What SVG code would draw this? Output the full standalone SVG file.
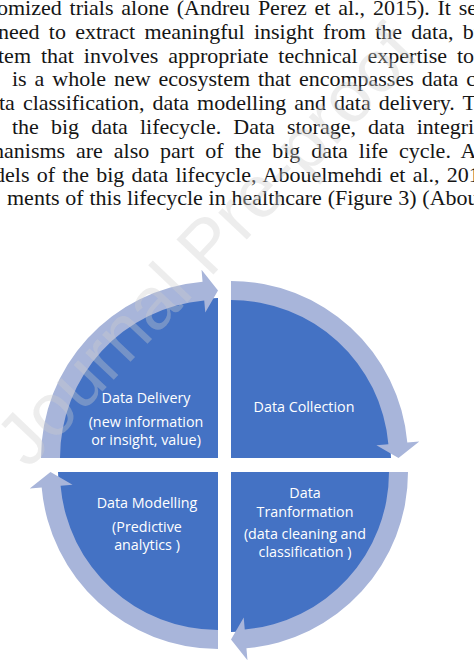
<svg xmlns="http://www.w3.org/2000/svg" width="474" height="661" viewBox="0 0 474 661">
<style>
.para{font-family:"Liberation Serif","Times New Roman",serif;font-size:22px;fill:#151515}
.q{fill:#4472C4}
.lbl{font-family:"Open Sans","Noto Sans",sans-serif;font-size:14.3px;fill:#FFFFFF;text-anchor:middle}
.arrow{fill:#A8B5DA}
.wm{font-family:"Liberation Sans",Arial,sans-serif;font-size:74px;fill:#CCCCCC;fill-opacity:0.36}
</style>
<rect width="474" height="661" fill="#FFFFFF"/>
<g id="paragraph">
<text class="para" x="-3" y="15" word-spacing="2.3">omized trials alone (Andreu Perez et al., 2015). It se</text>
<text class="para" x="-2" y="38.8" word-spacing="3.8">need to extract meaningful insight from the data, bu</text>
<text class="para" x="-2" y="62.6" word-spacing="4.4">tem that involves appropriate technical expertise to</text>
<text class="para" x="12" y="86.4" word-spacing="2.4">is a whole new ecosystem that encompasses data c</text>
<text class="para" x="-1" y="110.2" word-spacing="2.5">ta classification, data modelling and data delivery. T</text>
<text class="para" x="12" y="134" word-spacing="6.6">the big data lifecycle. Data storage, data integri</text>
<text class="para" x="-7" y="157.8" word-spacing="5.4">hanisms are also part of the big data life cycle. A</text>
<text class="para" x="-6" y="181.6" word-spacing="1.7">dels of the big data lifecycle, Abouelmehdi et al., 201</text>
<text class="para" x="7" y="205.4" word-spacing="0.3">ments of this lifecycle in healthcare (Figure 3) (Abou</text>
</g>
<g id="node-data-delivery">
<path class="q" d="M218,458 L58,458 A160,160 0 0 1 218,298 Z"/>
<text class="lbl" x="146" y="403">Data Delivery</text>
<text class="lbl" x="146" y="427">(new information</text>
<text class="lbl" x="146" y="445">or insight, value)</text>
</g>
<g id="node-data-collection">
<path class="q" d="M231,458 L231,298 A160,160 0 0 1 391,458 Z"/>
<text class="lbl" x="304" y="412">Data Collection</text>
</g>
<g id="node-data-transformation">
<path class="q" d="M231,472 L391,472 A160,160 0 0 1 231,632 Z"/>
<text class="lbl" x="305" y="498">Data</text>
<text class="lbl" x="305" y="517">Tranformation</text>
<text class="lbl" x="305" y="539">(data cleaning and</text>
<text class="lbl" x="305" y="557">classification )</text>
</g>
<g id="node-data-modelling">
<path class="q" d="M218,472 L218,632 A160,160 0 0 1 58,472 Z"/>
<text class="lbl" x="147" y="508">Data Modelling</text>
<text class="lbl" x="147" y="532">(Predictive</text>
<text class="lbl" x="147" y="550">analytics )</text>
</g>
<g id="connectors">
<path class="arrow" d="M41,458 A177,177 0 0 1 202.57,281.67 L201.53,269.72 L218,290.5 L205.28,312.56 L204.23,300.6 A158,158 0 0 0 60,458 Z"/>
<path class="arrow" d="M231,281 A177,177 0 0 1 407.33,442.57 L419.28,441.53 L398.5,458 L376.44,445.28 L388.4,444.23 A158,158 0 0 0 231,300 Z"/>
<path class="arrow" d="M408,472 A177,177 0 0 1 246.43,648.33 L247.47,660.28 L231,639.5 L243.73,617.44 L244.77,629.4 A158,158 0 0 0 389,472 Z"/>
<path class="arrow" d="M218,649 A177,177 0 0 1 41.67,487.43 L29.72,488.47 L50.5,472 L72.56,484.73 L60.6,485.77 A158,158 0 0 0 218,630 Z"/>
</g>
<text class="wm" transform="translate(28,470) rotate(-46.5)">Journal Pre-proof</text>
</svg>
